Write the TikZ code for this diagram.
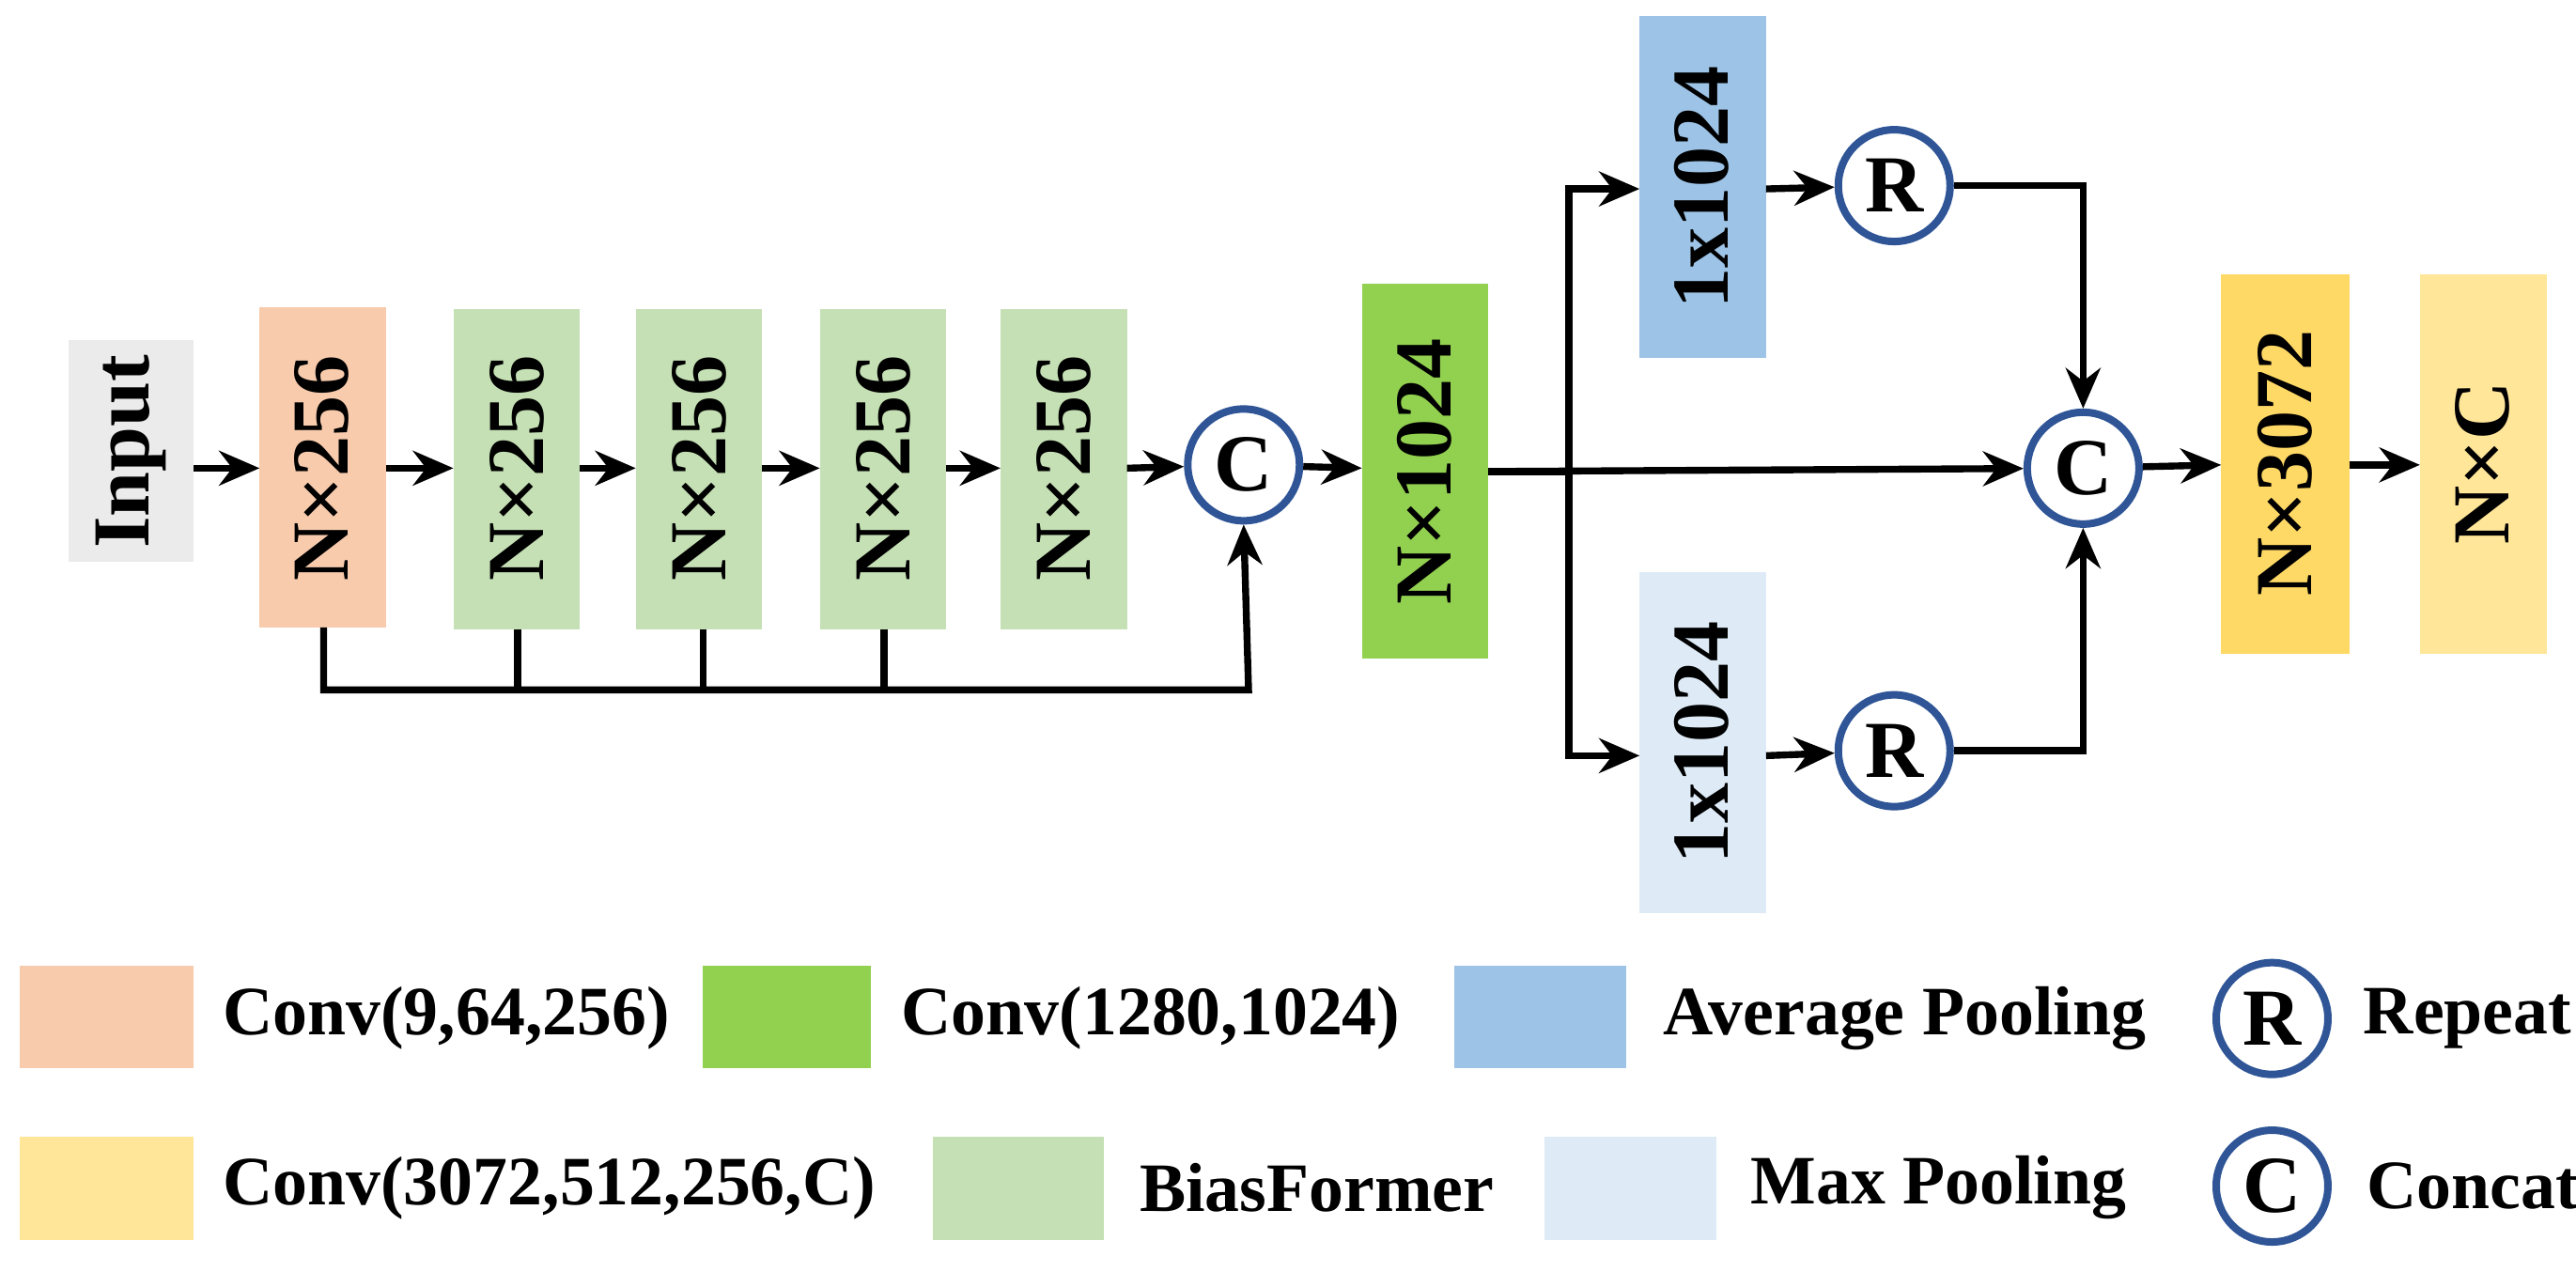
\documentclass[tikz,border=0pt]{standalone}
\usepackage{fontspec}
\setmainfont{Liberation Serif}
\usetikzlibrary{arrows.meta}
\definecolor{cin}{HTML}{EBEBEB}
\definecolor{corg}{HTML}{F8CBAD}
\definecolor{cbf}{HTML}{C5E0B4}
\definecolor{cgr}{HTML}{92D050}
\definecolor{cavg}{HTML}{9DC3E6}
\definecolor{cmax}{HTML}{DEEBF7}
\definecolor{cy1}{HTML}{FFD966}
\definecolor{cy2}{HTML}{FFE699}
\definecolor{cbl}{HTML}{2F5597}
\begin{document}
\begin{tikzpicture}[x=0.01cm,y=-0.01cm,
  box/.style={draw=none,inner sep=0pt,font=\fontsize{14}{16}\selectfont\bfseries},
  circ/.style={circle,draw=cbl,line width=1.3pt,fill=white,minimum size=0.68cm,inner sep=0pt,font=\fontsize{14}{16}\selectfont\bfseries},
  arr/.style={line width=1.2pt,-{Stealth[length=7pt,width=6pt]}},
  ln/.style={line width=1.2pt},
  leg/.style={anchor=west,inner sep=0pt,font=\fontsize{12}{14}\selectfont\bfseries}]
\useasboundingbox (0,0) rectangle (1568,774);
\newcommand{\blk}[6]{\fill[#6] (#2,#4) rectangle (#3,#5);
  \node[box,rotate=90] (#1) at ({(#2+#3)/2},{(#4+#5)/2}) {};
  \coordinate (#1-w) at (#2,{(#4+#5)/2});}
% boxes
\fill[cin] (42,207) rectangle (118,342); \node[box,rotate=90] at (80,275) {Input};
\fill[corg] (158,187) rectangle (235,382); \node[box,rotate=90] at (196,285) {N×256};
\foreach \a/\n in {276/1,387/2,499/3,609/4}{
  \fill[cbf] (\a,188) rectangle (\a+77,383); \node[box,rotate=90] at (\a+38.5,285) {N×256};}
\fill[cgr] (829,173) rectangle (906,401); \node[box,rotate=90] at (867,287) {N×1024};
\fill[cavg] (998,10) rectangle (1075,218); \node[box,rotate=90] at (1036,114) {1x1024};
\fill[cmax] (998,348) rectangle (1075,556); \node[box,rotate=90] at (1036,452) {1x1024};
\fill[cy1] (1352,167) rectangle (1430,398); \node[box,rotate=90] at (1391,282) {N×3072};
\fill[cy2] (1473,167) rectangle (1550,398); \node[box,rotate=90] at (1511,282) {N×C};
% named anchors
\coordinate (in) at (118,285); \coordinate (o1w) at (158,285); \coordinate (o1e) at (235,285);
\coordinate (g1w) at (276,285); \coordinate (g1e) at (353,285);
\coordinate (g2w) at (387,285); \coordinate (g2e) at (464,285);
\coordinate (g3w) at (499,285); \coordinate (g3e) at (576,285);
\coordinate (g4w) at (609,285); \coordinate (g4e) at (686,285);
\coordinate (nw) at (829,285); \coordinate (ne) at (906,287);
\coordinate (aw) at (998,115); \coordinate (ae) at (1075,115);
\coordinate (mw) at (998,460); \coordinate (me) at (1075,460);
\coordinate (y1w) at (1352,283); \coordinate (y1e) at (1430,283);
\coordinate (y2w) at (1473,283);
\coordinate (br) at (955,287);
\node[circ] (c1) at (757,283) {C};
\node[circ] (c2) at (1268,285) {C};
\node[circ] (r1) at (1153,113) {R};
\node[circ] (r2) at (1153,457) {R};
% arrows
\draw[arr] (in) -- (o1w);
\draw[arr] (o1e) -- (g1w);
\draw[arr] (g1e) -- (g2w);
\draw[arr] (g2e) -- (g3w);
\draw[arr] (g3e) -- (g4w);
\draw[arr] (g4e) -- (c1);
\draw[arr] (c1) -- (nw);
\draw[arr] (ne) -- (c2);
\draw[ln] (ne) -- (br);
\draw[arr] (br) |- (aw);
\draw[arr] (br) |- (mw);
\draw[arr] (ae) -- (r1);
\draw[arr] (me) -- (r2);
\draw[arr] (r1.east) -| (c2.north);
\draw[arr] (r2.east) -| (c2.south);
\draw[arr] (c2) -- (y1w);
\draw[arr] (y1e) -- (y2w);
% skip
\coordinate (s0) at (197,382);
\draw[arr] (s0) |- (760,420) -- (c1.south);
\foreach \x in {315,428,538} \draw[ln] (\x,383) -- (\x,420);
% legend
\fill[corg] (12,588) rectangle (118,650); \node[leg] at (135,620) {Conv(9,64,256)};
\fill[cgr] (428,588) rectangle (530,650); \node[leg] at (548,620) {Conv(1280,1024)};
\fill[cavg] (885,588) rectangle (990,650); \node[leg] at (1012,620) {Average Pooling};
\node[circ] (lr) at (1383,620) {R}; \node[leg] at (1438,620) {Repeat};
\fill[cy2] (12,692) rectangle (118,755); \node[leg] at (135,723) {Conv(3072,512,256,C)};
\fill[cbf] (568,692) rectangle (672,755); \node[leg] at (693,723) {BiasFormer};
\fill[cmax] (940,692) rectangle (1045,755); \node[leg] at (1065,723) {Max Pooling};
\node[circ] (lc) at (1383,722) {C}; \node[leg] at (1440,722) {Concat};
\end{tikzpicture}
\end{document}
